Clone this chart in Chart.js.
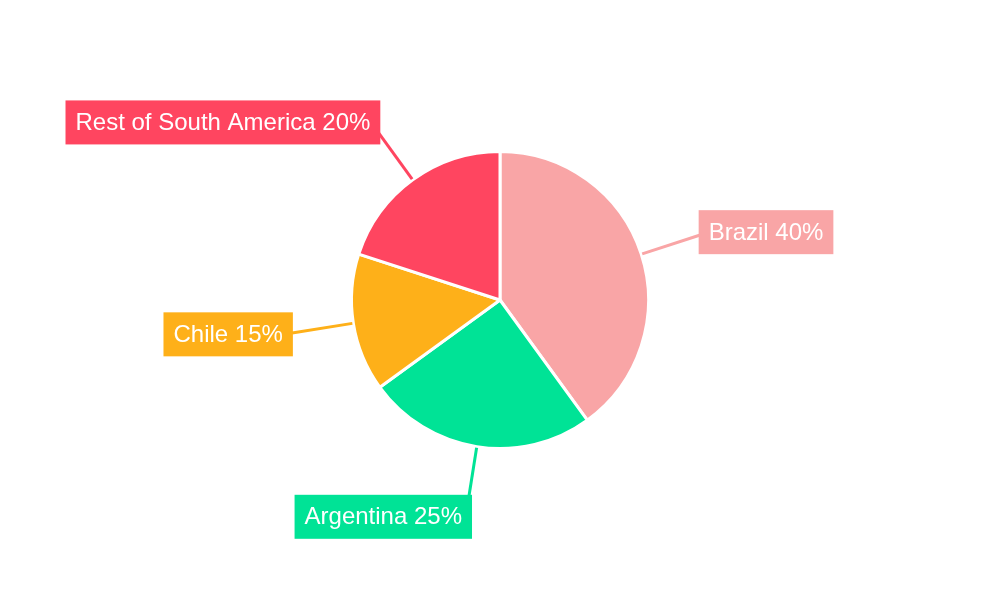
<!DOCTYPE html>
<html>
<head>
<meta charset="utf-8">
<script src="https://cdn.jsdelivr.net/npm/chart.js@4.4.0/dist/chart.umd.min.js"></script>
<style>
html,body{margin:0;padding:0;background:#fff;}
#wrap{width:1000px;height:600px;}
</style>
</head>
<body>
<div id="wrap"><canvas id="c" width="1000" height="600"></canvas></div>
<script>
const categories = ["Brazil", "Argentina", "Chile", "Rest of South America"];
const shares = [40, 25, 15, 20];
const sliceColors = ["#F9A5A6", "#00E396", "#FEB019", "#FF4560"];

const calloutPlugin = {
  id: 'callouts',
  afterDatasetsDraw(chart) {
    const ctx = chart.ctx;
    const meta = chart.getDatasetMeta(0);
    const ds = chart.data.datasets[0];
    ctx.save();
    ctx.font = '24px "Liberation Sans", Arial, sans-serif';
    const items = meta.data.map((arc, i) => {
      const mid = (arc.startAngle + arc.endAngle) / 2;
      const dx = Math.cos(mid), dy = Math.sin(mid);
      const r = arc.outerRadius;
      const sx = arc.x + dx * (r + 1), sy = arc.y + dy * (r + 1);
      const ex = arc.x + dx * (r + 62), ey = arc.y + dy * (r + 62);
      const text = chart.data.labels[i] + ' ' + ds.data[i] + '%';
      const w = ctx.measureText(text).width + 20;
      const h = 44;
      let bx;
      if (dx >= 0) bx = ex - 5 * Math.abs(dy);
      else bx = ex + 5 * Math.abs(dy) - w;
      const cy = ey + 9 * dy;
      return {sx, sy, ex, ey, text, w, h, bx, by: cy - h / 2, color: ds.backgroundColor[i]};
    });
    items.forEach(it => {
      ctx.strokeStyle = it.color;
      ctx.lineWidth = 3;
      ctx.beginPath();
      ctx.moveTo(it.sx, it.sy);
      ctx.lineTo(it.ex, it.ey);
      ctx.stroke();
    });
    items.forEach(it => {
      ctx.fillStyle = it.color;
      ctx.fillRect(it.bx, it.by, it.w, it.h);
      ctx.fillStyle = '#ffffff';
      ctx.textBaseline = 'middle';
      ctx.textAlign = 'left';
      ctx.fillText(it.text, it.bx + 10, it.by + it.h / 2 + 1);
    });
    ctx.restore();
  }
};

new Chart(document.getElementById('c'), {
  type: 'pie',
  data: {
    labels: categories,
    datasets: [{
      data: shares,
      backgroundColor: sliceColors,
      borderColor: '#ffffff',
      borderWidth: 3
    }]
  },
  options: {
    responsive: false,
    animation: false,
    layout: {padding: {top: 150, bottom: 150, left: 0, right: 0}},
    plugins: {legend: {display: false}, tooltip: {enabled: false}}
  },
  plugins: [calloutPlugin]
});
</script>
</body>
</html>
